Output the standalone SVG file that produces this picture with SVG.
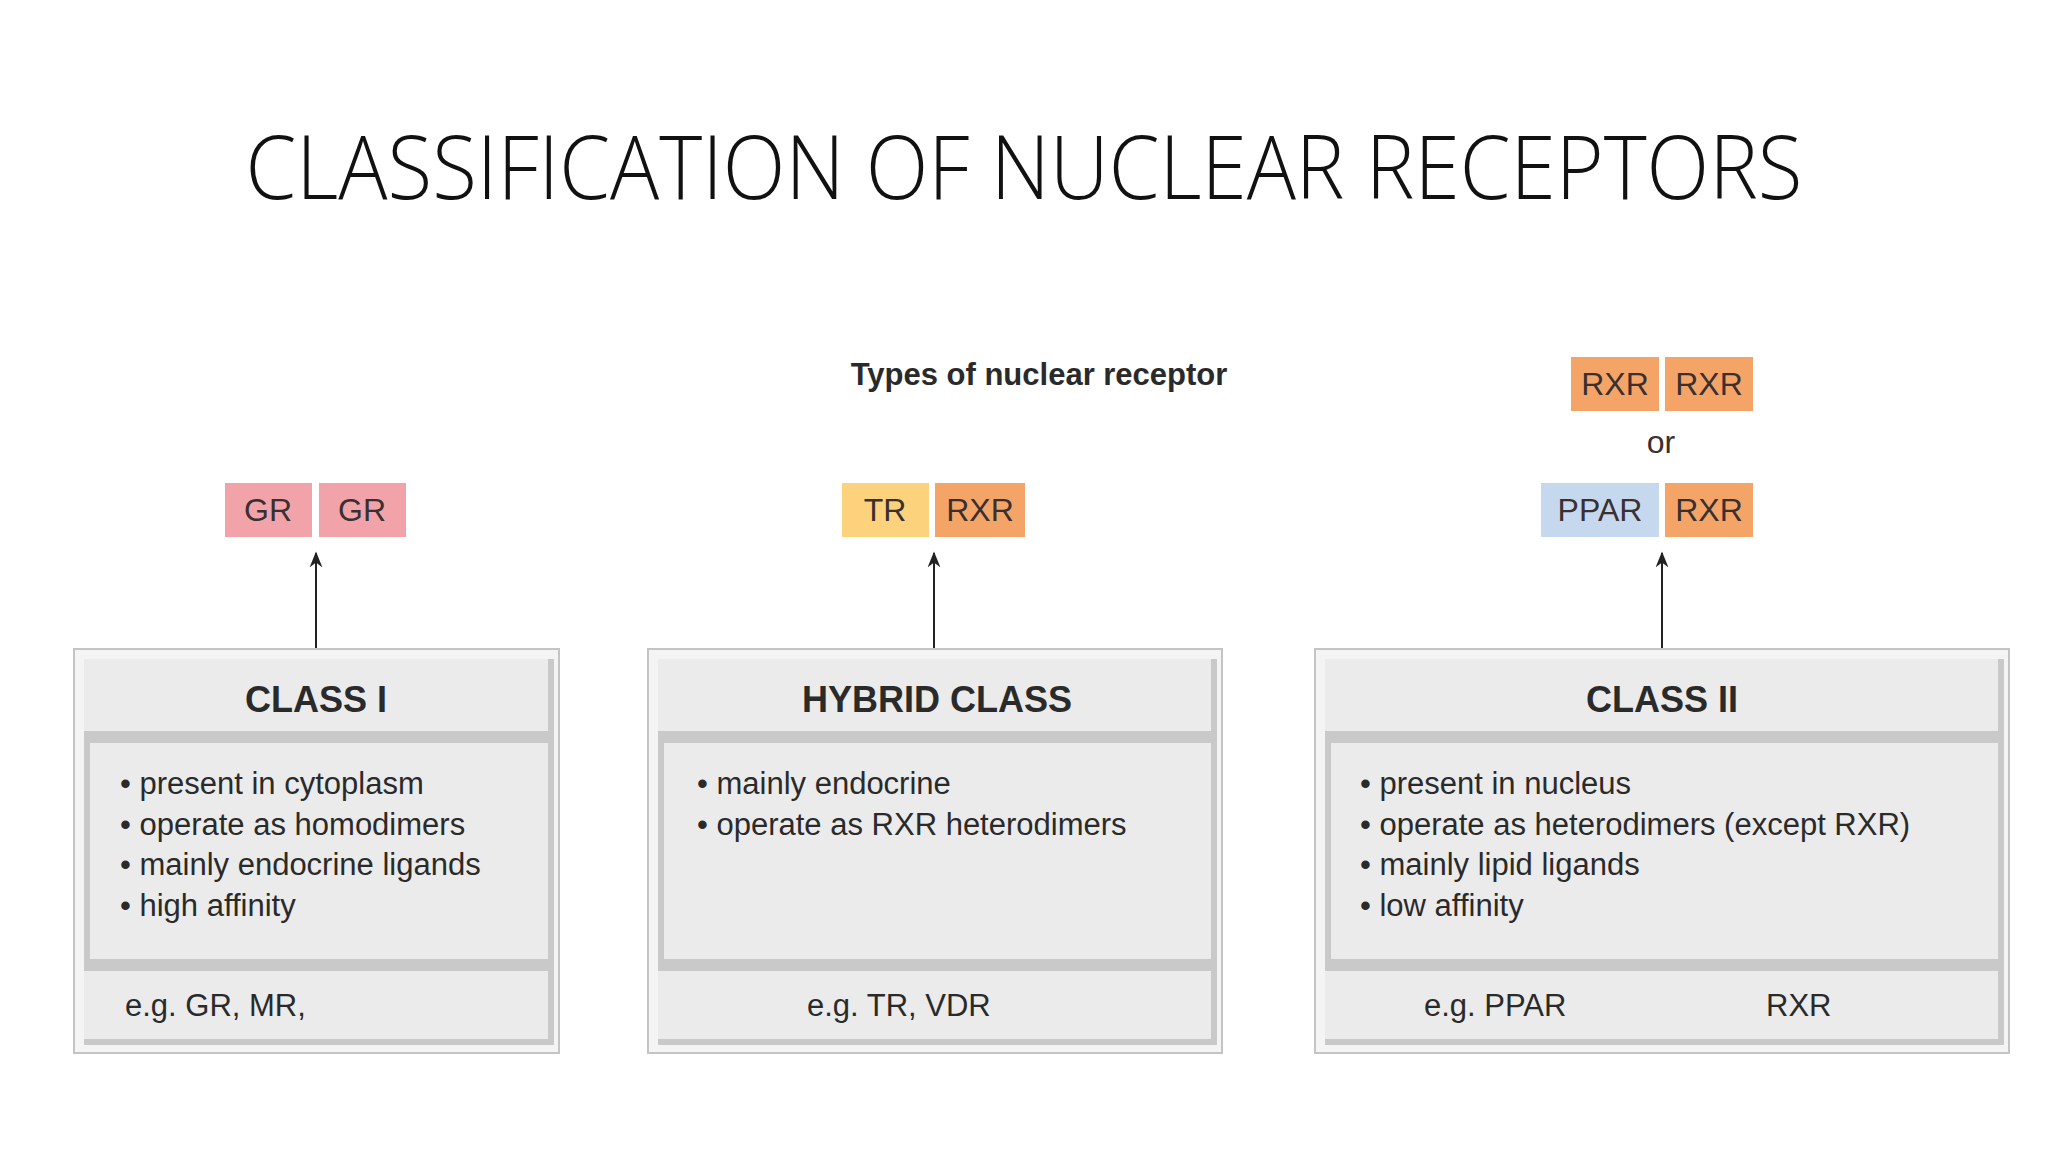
<svg xmlns="http://www.w3.org/2000/svg" width="2048" height="1152" viewBox="0 0 2048 1152">
<style>
.t{font-family:"Liberation Sans",Arial,sans-serif;fill:#2a2a2a}
.h{font-size:36px;font-weight:bold;text-anchor:middle}
.b{font-size:31px}
.r{font-size:32px;text-anchor:middle;fill:#3a3030}
.outer{fill:#f4f4f4;stroke:#c4c4c4;stroke-width:2}
.shade{fill:#c9c9c9}
.pan{fill:#ebebeb}
</style>
<defs>
<marker id="ah" viewBox="0 0 10 10" refX="9" refY="5" markerWidth="8" markerHeight="8" orient="auto"><path d="M0,1 L10,5 L0,9 L3,5 Z" fill="#222"/></marker>
</defs>
<rect width="2048" height="1152" fill="#fff"/>
<text x="1024" y="199" text-anchor="middle" font-family="'Open Sans','Liberation Sans',sans-serif" font-weight="300" font-size="88" fill="#111" textLength="1557" lengthAdjust="spacingAndGlyphs">CLASSIFICATION OF NUCLEAR RECEPTORS</text>
<text class="t" x="1039" y="385" text-anchor="middle" font-size="31" font-weight="bold">Types of nuclear receptor</text>

<g id="connectors" stroke="#222" stroke-width="2" fill="none">
<line x1="316" y1="649" x2="316" y2="553" marker-end="url(#ah)"/>
<line x1="934" y1="649" x2="934" y2="553" marker-end="url(#ah)"/>
<line x1="1662" y1="649" x2="1662" y2="553" marker-end="url(#ah)"/>
</g>

<g id="class1-dimer">
<rect x="225" y="483" width="87" height="54" fill="#f2a3aa"/><text class="t r" x="268" y="521">GR</text>
<rect x="319" y="483" width="87" height="54" fill="#f2a3aa"/><text class="t r" x="362" y="521">GR</text>
</g>
<g id="hybrid-dimer">
<rect x="842" y="483" width="87" height="54" fill="#fcd37c"/><text class="t r" x="885" y="521">TR</text>
<rect x="935" y="483" width="90" height="54" fill="#f5a468"/><text class="t r" x="980" y="521">RXR</text>
</g>
<g id="class2-dimers">
<rect x="1571" y="357" width="88" height="54" fill="#f5a468"/><text class="t r" x="1615" y="395">RXR</text>
<rect x="1665" y="357" width="88" height="54" fill="#f5a468"/><text class="t r" x="1709" y="395">RXR</text>
<text class="t r" x="1661" y="453" font-size="29">or</text>
<rect x="1541" y="483" width="118" height="54" fill="#c6d8ee"/><text class="t r" x="1600" y="521">PPAR</text>
<rect x="1665" y="483" width="88" height="54" fill="#f5a468"/><text class="t r" x="1709" y="521">RXR</text>
</g>

<g id="class1">
<rect class="outer" x="74" y="649" width="485" height="404"/>
<rect class="shade" x="84" y="659" width="470" height="78"/><rect class="pan" x="84" y="659" width="464" height="72"/>
<rect class="shade" x="84" y="737" width="470" height="228"/><rect class="pan" x="90" y="743" width="458" height="216"/>
<rect class="shade" x="84" y="965" width="470" height="80"/><rect class="pan" x="84" y="971" width="464" height="68"/>
<text class="t h" x="316" y="712">CLASS I</text>
<text class="t b" x="120" y="794">• present in cytoplasm</text>
<text class="t b" x="120" y="835">• operate as homodimers</text>
<text class="t b" x="120" y="875">• mainly endocrine ligands</text>
<text class="t b" x="120" y="916">• high affinity</text>
<text class="t b" x="125" y="1016">e.g. GR, MR,</text>
</g>
<g id="hybrid">
<rect class="outer" x="648" y="649" width="574" height="404"/>
<rect class="shade" x="658" y="659" width="559" height="78"/><rect class="pan" x="658" y="659" width="553" height="72"/>
<rect class="shade" x="658" y="737" width="559" height="228"/><rect class="pan" x="664" y="743" width="547" height="216"/>
<rect class="shade" x="658" y="965" width="559" height="80"/><rect class="pan" x="658" y="971" width="553" height="68"/>
<text class="t h" x="937" y="712">HYBRID CLASS</text>
<text class="t b" x="697" y="794">• mainly endocrine</text>
<text class="t b" x="697" y="835">• operate as RXR heterodimers</text>
<text class="t b" x="807" y="1016">e.g. TR, VDR</text>
</g>
<g id="class2">
<rect class="outer" x="1315" y="649" width="694" height="404"/>
<rect class="shade" x="1325" y="659" width="679" height="78"/><rect class="pan" x="1325" y="659" width="673" height="72"/>
<rect class="shade" x="1325" y="737" width="679" height="228"/><rect class="pan" x="1331" y="743" width="667" height="216"/>
<rect class="shade" x="1325" y="965" width="679" height="80"/><rect class="pan" x="1325" y="971" width="673" height="68"/>
<text class="t h" x="1662" y="712">CLASS II</text>
<text class="t b" x="1360" y="794">• present in nucleus</text>
<text class="t b" x="1360" y="835">• operate as heterodimers (except RXR)</text>
<text class="t b" x="1360" y="875">• mainly lipid ligands</text>
<text class="t b" x="1360" y="916">• low affinity</text>
<text class="t b" x="1424" y="1016">e.g. PPAR</text>
<text class="t b" x="1766" y="1016">RXR</text>
</g>
</svg>
